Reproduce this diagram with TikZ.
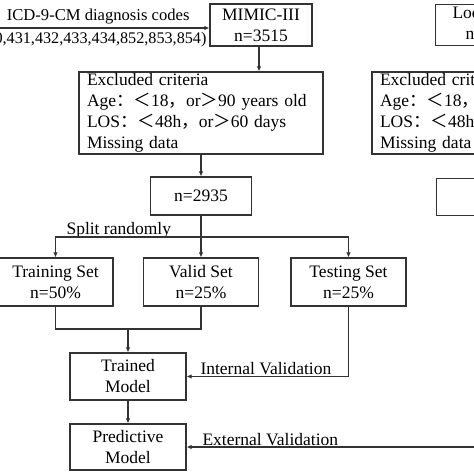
\documentclass[tikz,border=0pt]{standalone}
\usepackage{fontspec}
\setmainfont{Liberation Serif}
\newfontfamily\cjk{Noto Sans CJK SC}
\usetikzlibrary{arrows.meta}
\newcommand{\fw}[1]{{\cjk #1}}

\begin{document}
\begin{tikzpicture}[x=1pt, y=-1pt, >={Latex[length=5pt,width=4.5pt]},
  every node/.style={font=\fontsize{17.5}{21}\selectfont},
  small/.style={font=\fontsize{16.2}{19}\selectfont},
  box/.style={draw=black!80, line width=1.1pt, inner sep=0pt, align=center},
  crit/.style={box, align=left, text width=228pt, inner xsep=8pt, minimum height=82pt},
  link/.style={draw=black!80, line width=1.1pt}]
  \useasboundingbox (0,0) rectangle (474,474);
  \clip (0,0) rectangle (474,474);
  % sources
  \node[small, font=\fontsize{16.6}{19}\selectfont, anchor=base east] (icd) at (193,20) {ICD-9-CM diagnosis codes};
  \node[small, anchor=base east] (codes) at (210,43) {(430,431,432,433,434,852,853,854)};
  \node[box, minimum width=102pt, minimum height=42pt] (mimic) at (261,25) {MIMIC-III\\n=3515};
  \node[box, minimum width=110pt, minimum height=41pt, anchor=north west] (loc) at (435,4) {};
  \node[anchor=base west] (loctxt) at (449,18) {Loc};
  \node[anchor=base west] (locn) at (462,39) {n};
  % exclusion
  \node[crit] (excl) at (201,113) {Excluded criteria\\Age\fw{：＜}18\fw{，}or\fw{＞}90 years old\\LOS\fw{：＜}48h\fw{，}or\fw{＞}60 days\\Missing data};
  \node[crit] (exclb) at (494,113) {Excluded criteria\\Age\fw{：＜}18\fw{，}or\fw{＞}90 years old\\LOS\fw{：＜}48h\fw{，}or\fw{＞}60 days\\Missing data};
  \node[box, minimum width=101pt, minimum height=38pt] (total) at (201,196) {n=2935};
  \node[box, minimum width=120pt, minimum height=37pt, anchor=north west] (totalb) at (436,178) {};
  % split
  \node[box, minimum width=115pt, minimum height=48pt] (train) at (55.5,282) {Training Set\\n=50\%};
  \node[box, minimum width=115pt, minimum height=48pt] (valid) at (201,282) {Valid Set\\n=25\%};
  \node[box, minimum width=115pt, minimum height=48pt] (test) at (348.5,282) {Testing Set\\n=25\%};
  \node[box, minimum width=116pt, minimum height=47pt] (trained) at (128,376.5) {Trained\\Model};
  \node[box, minimum width=116pt, minimum height=46pt] (pred) at (128,447) {Predictive\\Model};
  \node[anchor=base west] (splitlbl) at (63,234) {Split randomly};
  \node[anchor=base west] (intlbl) at (197,374) {Internal Validation};
  \node[anchor=base west] (extlbl) at (199,445) {External Validation};
  % connectors
  \coordinate (src) at (-5,28);
  \coordinate (split) at (201,237);
  \coordinate (merge) at (128,329);
  \coordinate (ext) at (480,447);
  \draw[link, ->] (src) -- (src -| mimic.west);
  \draw[link, ->] (mimic.south -| 259,0) -- (excl.north -| 259,0);
  \draw[link, ->] (excl.south) -- (total.north);
  \draw[link, ->] (total.south) -- (valid.north);
  \draw[link, ->] (split) -| (train.north);
  \draw[link, ->] (split) -| (test.north);
  \draw[link] (train.south) |- (merge) -| (valid.south);
  \draw[link, ->] (merge) -- (trained.north);
  \draw[link, ->] (test.south) |- (trained.east);
  \draw[link, ->] (trained.south) -- (pred.north);
  \draw[link, ->] (ext) -- (pred.east);
\end{tikzpicture}
\end{document}
